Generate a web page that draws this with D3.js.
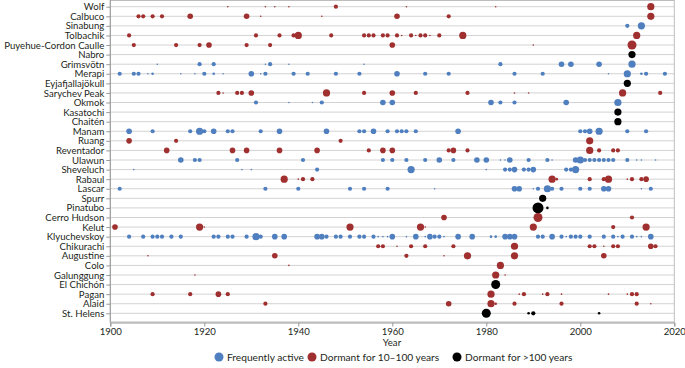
<!DOCTYPE html>
<html><head><meta charset="utf-8">
<script src="https://cdn.jsdelivr.net/npm/d3@7"></script>
<style>
body{margin:0;background:#fff}
text{font-family:Lato,"Liberation Sans",sans-serif;fill:#231f20}
</style>
</head><body>
<svg id="chart" width="685" height="368"></svg>
<script>
const volcanoes = ["Wolf","Calbuco","Sinabung","Tolbachik","Puyehue-Cordon Caulle","Nabro","Grimsvötn","Merapi","Eyjafjallajökull","Sarychev Peak","Okmok","Kasatochi","Chaitén","Manam","Ruang","Reventador","Ulawun","Sheveluch","Rabaul","Lascar","Spurr","Pinatubo","Cerro Hudson","Kelut","Klyuchevskoy","Chikurachi","Augustine","Colo","Galunggung","El Chichón","Pagan","Alaid","St. Helens"];
const categories = ["Frequently active","Dormant for 10–100 years","Dormant for >100 years"];
const volcanoCategory = [1,1,0,1,1,2,0,0,2,1,0,2,2,0,1,1,0,0,1,0,2,2,1,1,0,1,1,1,1,2,1,1,2];
const eruptionYears = [
 [1925,1933,1935,1938,1948,1963,1982,2015],
 [1906,1907,1909,1911,1917,1929,1932,1945,1961,1972,2015],
 [2010,2013],
 [1904,1931,1936,1939,1940,1947,1954,1955,1956,1958,1959,1961,1962,1964,1965,1966,1967,1968,1970,1975,2012],
 [1905,1914,1919,1921,1929,1934,1960,1990,2011],
 [2011],
 [1910,1919,1922,1933,1934,1938,1954,1983,1996,1998,2004,2011],
 [1902,1905,1906,1908,1909,1915,1918,1920,1922,1924,1930,1932,1933,1939,1942,1948,1953,1961,1967,1972,1986,1992,2006,2010,2013,2014,2018],
 [2010],
 [1923,1924,1927,1928,1930,1946,1954,1960,1965,1976,1986,1989,2009,2017],
 [1931,1938,1943,1945,1958,1960,1981,1983,1986,1997,2008],
 [2008],
 [2008],
 [1904,1909,1917,1919,1920,1922,1925,1926,1932,1936,1946,1953,1954,1956,1959,1961,1962,1963,1965,1974,2000,2001,2002,2004,2010,2014],
 [1904,1914,1949,2002],
 [1912,1926,1929,1936,1944,1955,1958,1960,1972,1973,1976,2002,2004,2007,2008],
 [1915,1918,1919,1927,1941,1958,1960,1963,1967,1970,1973,1978,1980,1983,1984,1985,1989,1993,1994,1999,2000,2001,2002,2003,2004,2005,2006,2007,2010,2012,2013,2016],
 [1905,1928,1930,1944,1964,1980,1984,1985,1986,1988,1989,1990,1997,1998,1999],
 [1937,1940,1941,1943,1994,1995,2002,2005,2006,2010,2011,2013,2014],
 [1902,1933,1940,1951,1954,1959,1969,1986,1987,1990,1991,1993,1994,1996,2000,2002,2005,2006,2013,2015],
 [1992],
 [1991,1993],
 [1971,1991,2011],
 [1901,1919,1920,1951,1966,1967,1990,2007,2014],
 [1904,1907,1909,1910,1911,1913,1915,1922,1923,1925,1926,1929,1931,1932,1935,1937,1944,1945,1946,1948,1949,1951,1953,1954,1956,1957,1958,1959,1960,1963,1965,1967,1968,1969,1970,1971,1974,1977,1981,1982,1984,1985,1986,1991,1992,1994,1996,1997,1998,1999,2000,2002,2005,2007,2008,2009,2011,2012,2013,2015],
 [1957,1958,1961,1964,1967,1973,1986,2002,2003,2005,2007,2008,2015,2016],
 [1908,1935,1963,1971,1976,1986,2005],
 [1938,1983],
 [1918,1982,1984],
 [1982],
 [1909,1917,1923,1925,1981,1987,1988,1992,1993,1996,2006,2010,2011,2012],
 [1933,1972,1981,1982,1986,1996,2012,2015],
 [1980,1989,1990,2004]
];
const eruptionVEI = [
 [0,0,0,0,2,0,0,4],
 [2,2,2,2,3,3,0,0,3,2,4],
 [2,4],
 [2,2,2,2,4,2,2,2,2,2,2,2,0,2,0,2,2,0,2,4,4],
 [2,2,2,3,2,2,3,0,5],
 [4],
 [0,2,2,0,2,0,0,2,3,3,3,4],
 [2,2,2,0,1,0,0,2,1,0,3,0,2,2,2,2,2,3,2,2,2,2,0,4,1,2,2],
 [4],
 [2,0,2,2,3,4,2,3,2,2,0,0,4,2],
 [2,0,0,2,3,3,3,2,2,3,4],
 [4],
 [4],
 [3,2,2,4,2,3,2,2,2,3,3,2,2,3,2,2,2,2,2,3,2,2,3,4,2,2],
 [3,2,2,4],
 [3,3,3,3,3,2,3,3,2,3,2,4,2,2,2],
 [3,2,2,2,2,2,2,2,2,3,2,3,3,0,0,3,2,2,0,3,4,2,2,2,2,2,2,2,2,0,0,0],
 [0,0,0,2,4,0,2,2,3,2,2,3,2,2,4],
 [4,0,2,2,4,1,2,2,4,0,2,2,3],
 [2,2,2,2,2,2,0,3,3,0,2,4,2,2,2,2,3,3,0,2],
 [4],
 [6,1],
 [3,5,2],
 [3,4,0,4,4,0,4,2,4],
 [2,2,2,2,2,2,2,2,2,2,2,2,4,2,3,3,3,3,2,2,2,2,2,2,2,0,0,0,3,0,3,0,3,2,2,0,3,3,1,1,3,3,3,2,2,3,2,0,2,2,2,2,2,2,0,2,2,0,0,3],
 [2,2,0,2,2,2,4,2,2,0,2,2,3,2],
 [0,3,2,0,4,4,3],
 [0,4],
 [0,4,0],
 [5],
 [2,2,3,2,4,0,2,0,2,0,0,0,2,2],
 [2,3,4,1,2,2,2,0],
 [5,1,2,1]
];
const xTicks = [1900,1920,1940,1960,1980,2000,2020];
const colors = ["#4f7fbf","#a0302f","#000000"];

const svg = d3.select("#chart");
const x = d3.scaleLinear().domain([1900,2020]).range([110.3,674.3]);
const y = d3.scalePoint().domain(volcanoes).range([6.7,313.3]);
const r = d3.scaleLinear().domain([0,1,2,3,4,5,6]).range([0.8,1.3,2.1,2.8,3.6,4.5,5.5]);
const color = d3.scaleOrdinal().domain([0,1,2]).range(colors);
const labelFont = "9.6px";

// grid lines
svg.append("g").selectAll("line").data(volcanoes).join("line")
  .attr("x1",x(1900)).attr("x2",x(2020))
  .attr("y1",d=>y(d)).attr("y2",d=>y(d))
  .attr("stroke","#d3d3d3").attr("stroke-width",1);

// frame
svg.append("rect").attr("x",x(1900)).attr("y",0.5)
  .attr("width",x(2020)-x(1900)).attr("height",322-0.5)
  .attr("fill","none").attr("stroke","#bdbdbd").attr("stroke-width",1);

// y axis
const yAxis = svg.append("g").attr("transform",`translate(${x(1900)},0)`)
  .call(d3.axisLeft(y).tickSize(4).tickPadding(2));
yAxis.select(".domain").remove();
yAxis.selectAll(".tick line").attr("stroke","#9a9a9a");
yAxis.selectAll(".tick text").style("font-size",labelFont).style("font-family","Lato,'Liberation Sans',sans-serif").attr("fill","#231f20");
svg.append("line").attr("x1",x(1900)).attr("x2",x(1900)).attr("y1",0).attr("y2",322.5).attr("stroke","#9a9a9a");

// x axis
const xAxis = svg.append("g").attr("transform","translate(0,322.5)")
  .call(d3.axisBottom(x).tickValues(xTicks).tickFormat(d3.format("d")).tickSize(4).tickPadding(2));
xAxis.select(".domain").attr("stroke","#9a9a9a");
xAxis.selectAll(".tick line").attr("stroke","#9a9a9a");
xAxis.selectAll(".tick text").style("font-size",labelFont).style("font-family","Lato,'Liberation Sans',sans-serif").attr("fill","#231f20");

svg.append("text").attr("x",392).attr("y",346).attr("text-anchor","middle")
  .style("font-size",labelFont).text("Year");

// dots
const points = [];
volcanoes.forEach((v,i)=>{
  eruptionYears[i].forEach((yr,j)=>points.push({v,yr,vei:eruptionVEI[i][j],cat:volcanoCategory[i]}));
});
svg.append("g").selectAll("circle").data(points).join("circle")
  .attr("cx",d=>x(d.yr)).attr("cy",d=>y(d.v)).attr("r",d=>r(d.vei))
  .attr("fill",d=>color(d.cat));

// legend
const legendX = [219,312,457];
const lg = svg.append("g").selectAll("g").data(categories).join("g")
  .attr("transform",(d,i)=>`translate(${legendX[i]},357)`);
lg.append("circle").attr("r",4.5).attr("fill",(d,i)=>color(i));
lg.append("text").attr("x",8).attr("dy","0.35em").style("font-size","10.2px").text(d=>d);
</script>
</body></html>
